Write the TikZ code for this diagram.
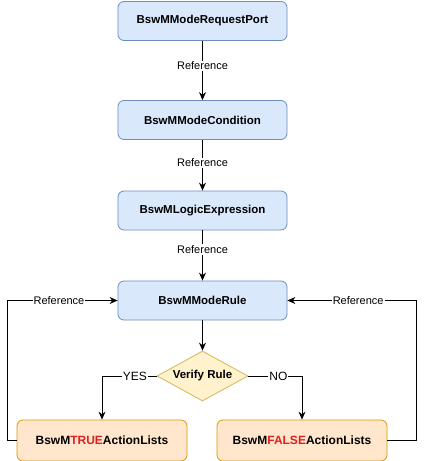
\documentclass[tikz,border=0pt]{standalone}
\usepackage{fontspec}
\setmainfont{Liberation Sans}
\usetikzlibrary{shapes.geometric,arrows.meta}
\definecolor{bfill}{HTML}{DAE8FC}
\definecolor{bdraw}{HTML}{6C8EBF}
\definecolor{ofill}{HTML}{FFE6CC}
\definecolor{odraw}{HTML}{D79B00}
\definecolor{yfill}{HTML}{FFF2CC}
\definecolor{ydraw}{HTML}{D6B656}
\definecolor{redtxt}{HTML}{E02020}
\tikzset{
  bluebox/.style={draw=bdraw,fill=bfill,rounded corners=6pt,minimum width=169pt,minimum height=39pt,font=\fontsize{11.5}{13}\selectfont\bfseries,line width=0.8pt},
  orangebox/.style={draw=odraw,fill=ofill,rounded corners=6pt,minimum width=170pt,minimum height=41pt,font=\fontsize{12}{14}\selectfont\bfseries,line width=0.8pt},
  decision/.style={diamond,draw=ydraw,fill=yfill,aspect=1.8,minimum width=91pt,minimum height=50pt,inner sep=0pt,font=\fontsize{11.5}{13}\selectfont\bfseries,line width=0.8pt},
  conn/.style={draw=black,line width=0.9pt,-{Stealth[length=8pt,width=7pt]}},
  lab/.style={fill=white,inner sep=1pt,font=\fontsize{11}{13}\selectfont},
  ynlab/.style={fill=white,inner sep=1pt,font=\fontsize{12}{14}\selectfont}
}
\begin{document}
\begin{tikzpicture}[x=1pt,y=-1pt]
\useasboundingbox[fill=white] (0,0) rectangle (426,461);
\node[bluebox] (p) at (202.5,21) {BswMModeRequestPort};
\node[bluebox] (c) at (202.5,120) {BswMModeCondition};
\node[bluebox] (l) at (202.5,210.5) {BswMLogicExpression};
\node[bluebox] (r) at (202.5,300.5) {BswMModeRule};
\node[decision] (d) at (202.5,376) {Verify Rule};
\node[orangebox] (t) at (102,440.5) {BswM\textcolor{redtxt}{TRUE}ActionLists};
\node[orangebox] (f) at (302,440.5) {BswM\textcolor{redtxt}{FALSE}ActionLists};
\coordinate (lc1) at (7,440.5);
\coordinate (lc2) at (7,300.5);
\coordinate (rc1) at (416,440.5);
\coordinate (rc2) at (416,300.5);
\draw[conn] (p) -- node[lab,pos=0.42] {Reference} (c);
\draw[conn] (c) -- node[lab,pos=0.45] {Reference} (l);
\draw[conn] (l) -- node[lab,pos=0.38] {Reference} (r);
\draw[conn] (r) -- (d);
\draw[conn] (d.west) -| node[ynlab,pos=0.2] {YES} (t.north);
\draw[conn] (d.east) -| node[ynlab,pos=0.28] {NO} (f.north);
\draw[conn] (t.west) -- (lc1) -- (lc2) -- node[lab,pos=0.47] {Reference} (r.west);
\draw[conn] (f.east) -- (rc1) -- (rc2) -- node[lab,pos=0.45] {Reference} (r.east);
\end{tikzpicture}
\end{document}
